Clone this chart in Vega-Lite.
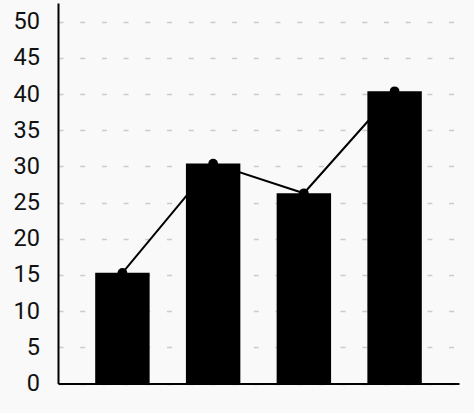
{
  "$schema": "https://vega.github.io/schema/vega-lite/v6.json",
  "autosize": "none",
  "padding": {"left": 58, "top": 3, "right": 15, "bottom": 29.5},
  "width": 401,
  "height": 380.5,
  "background": "#f9f9f9",
  "config": {"view": {"stroke": null}},
  "data": {"values": [
    {"cat": "A", "value": 15.3},
    {"cat": "B", "value": 30.4},
    {"cat": "C", "value": 26.3},
    {"cat": "D", "value": 40.4}
  ]},
  "encoding": {
    "x": {"field": "cat", "type": "nominal", "sort": null,
      "scale": {"paddingInner": 0.4, "paddingOuter": 0.41},
      "axis": {"title": null, "labels": false, "ticks": false, "grid": false, "domainColor": "#000", "domainWidth": 2}},
    "y": {"field": "value", "type": "quantitative",
      "scale": {"domain": [0, 52.6], "nice": false, "zero": true},
      "axis": {"title": null, "values": [0,5,10,15,20,25,30,35,40,45,50], "ticks": false,
        "domainColor": "#000", "domainWidth": 2,
        "grid": true, "gridColor": "#cccccc", "gridDash": [5, 16.7], "gridWidth": 1.5,
        "labelFont": "Roboto", "labelFontSize": 23.5, "labelColor": "#111", "labelPadding": 18.5}}
  },
  "layer": [
    {"mark": {"type": "bar", "color": "#000"}},
    {"mark": {"type": "line", "color": "#000", "strokeWidth": 2}},
    {"mark": {"type": "point", "filled": true, "color": "#000", "opacity": 1, "size": 95}}
  ]
}
